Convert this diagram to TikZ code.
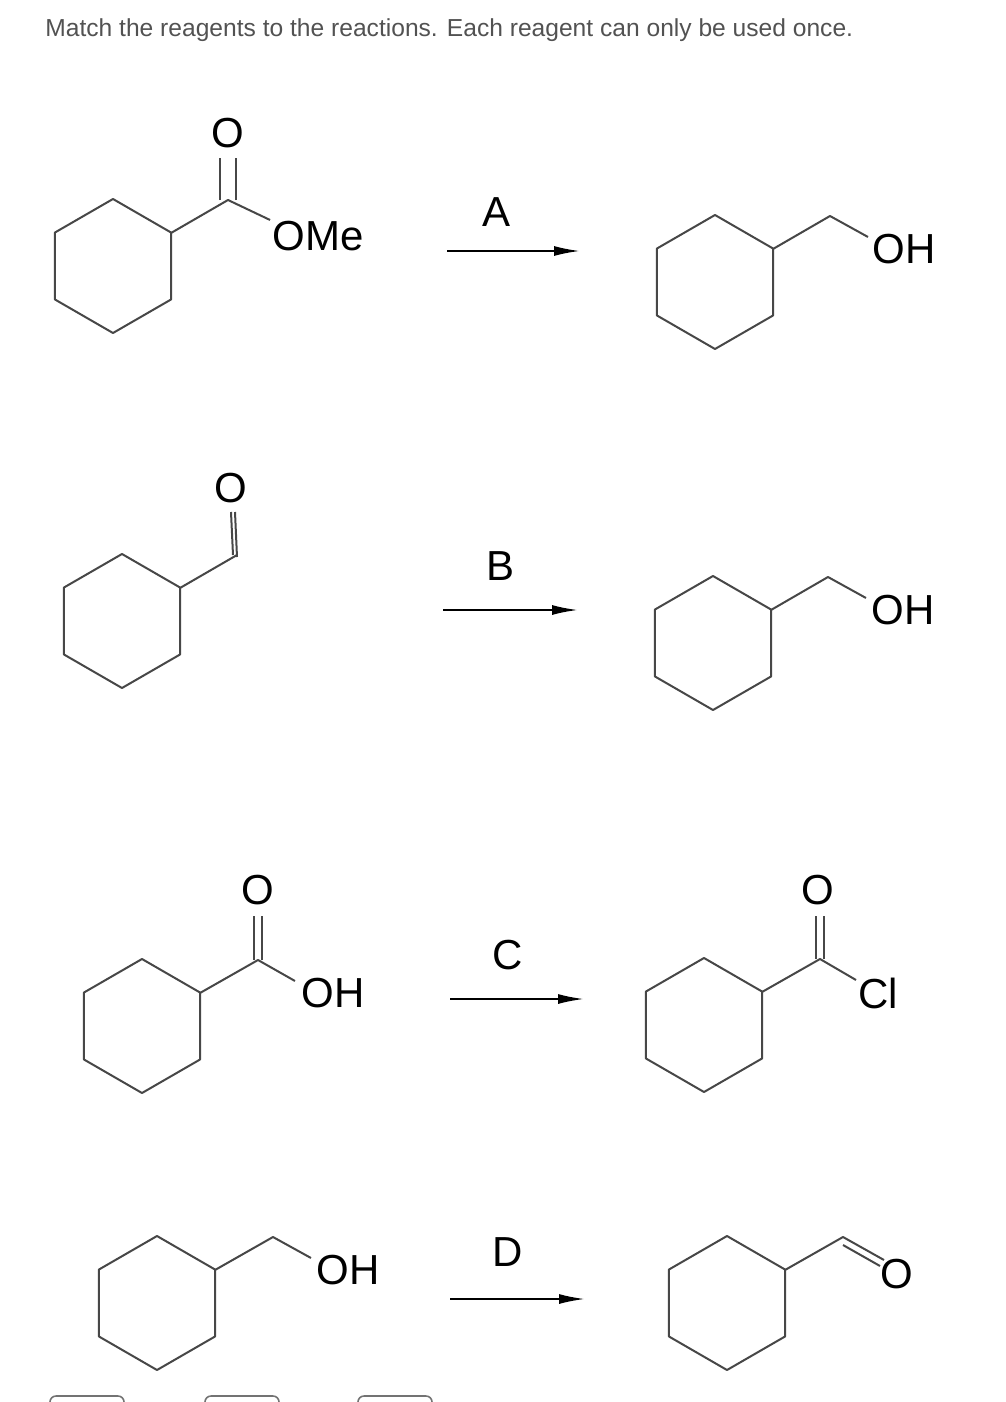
\documentclass[tikz,border=0pt]{standalone}
\usepackage{fontspec}
\setmainfont{Liberation Sans}
\usetikzlibrary{arrows.meta}
\begin{document}
\begin{tikzpicture}[x=0.5pt,y=-0.5pt,
  bond/.style={draw=black!72,line width=1pt,line join=round},
  atom/.style={font=\fontsize{21}{24}\selectfont,inner sep=1pt},
  rlabel/.style={font=\fontsize{21}{24}\selectfont,inner sep=0pt},
  rarrow/.style={draw=black,line width=1pt,-{Latex[length=13pt,width=5pt]}},
  hexa/.pic={\draw[bond] (90:67) -- (150:67) -- (210:67) -- (270:67) -- (330:67) -- (30:67) -- cycle;}]
\useasboundingbox (0,0) rectangle (1006,1402);
\node[anchor=base west,text=black!68,font=\fontsize{12.3}{14}\selectfont,inner sep=0] (title) at (45,37) {Match the reagents to the reactions. Each reagent can only be used once.};
% ---- reaction A
\pic at (113,266) {hexa};
\coordinate (a1) at (171,233); \coordinate (a2) at (228,200);
\node[atom] (aO) at (228,133) {O};
\node[atom] (aOMe) at (318,236) {OMe};
\draw[bond] (a1) -- (a2) -- (aOMe.west|-265,220);
\draw[bond] ([xshift=-4]a2) -- ([xshift=-4]aO.south|-0,158);
\draw[bond] ([xshift=4]a2) -- ([xshift=4]aO.south|-0,158);
\pic at (715,282) {hexa};
\node[atom] (pAOH) at (904,249) {OH};
\draw[bond] (773,249) -- (830,216) -- (868,237);
\node[rlabel] (lA) at (497,212) {A};
\coordinate (sA) at (447,251); \coordinate (eA) at (580,251);
\draw[rarrow] (sA) -- (eA);
% ---- reaction B
\pic at (122,621) {hexa};
\node[atom] (bO) at (231,488) {O};
\draw[bond] (180,588) -- (237,555);
\draw[bond] (233,555) -- (231,512);
\draw[bond] (237,557) -- (235,512);
\pic at (713,643) {hexa};
\node[atom] (pBOH) at (903,610) {OH};
\draw[bond] (771,610) -- (828,577) -- (866,598);
\node[rlabel] (lB) at (500,566) {B};
\coordinate (sB) at (443,610); \coordinate (eB) at (578,610);
\draw[rarrow] (sB) -- (eB);
% ---- reaction C
\pic at (142,1026) {hexa};
\node[atom] (cO) at (258,890) {O};
\node[atom] (cOH) at (333,993) {OH};
\draw[bond] (200,993) -- (258,960) -- (295,981);
\draw[bond] (254,960) -- (254,916);
\draw[bond] (262,960) -- (262,916);
\pic at (704,1025) {hexa};
\node[atom] (pCO) at (818,890) {O};
\node[atom] (pCCl) at (878,993) {Cl};
\draw[bond] (762,992) -- (820,959) -- (856,980);
\draw[bond] (816,959) -- (816,916);
\draw[bond] (824,959) -- (824,916);
\node[rlabel] (lC) at (508,955) {C};
\coordinate (sC) at (450,999); \coordinate (eC) at (584,999);
\draw[rarrow] (sC) -- (eC);
% ---- reaction D
\pic at (157,1303) {hexa};
\node[atom] (dOH) at (348,1270) {OH};
\draw[bond] (215,1270) -- (273,1237) -- (311,1258);
\pic at (727,1303) {hexa};
\node[atom] (pDO) at (897,1274) {O};
\draw[bond] (785,1270) -- (843,1237) -- (884,1260);
\draw[bond] (843,1245) -- (880,1266);
\node[rlabel] (lD) at (508,1252) {D};
\coordinate (sD) at (450,1299); \coordinate (eD) at (585,1299);
\draw[rarrow] (sD) -- (eD);
% ---- answer boxes (cut off)
\foreach \x [count=\i] in {50,205,358}
  \draw[draw=black!55,line width=0.8pt,rounded corners=3pt] (\x,1410) -- (\x,1396) -- (\x+74,1396) -- (\x+74,1410);
\end{tikzpicture}
\end{document}
